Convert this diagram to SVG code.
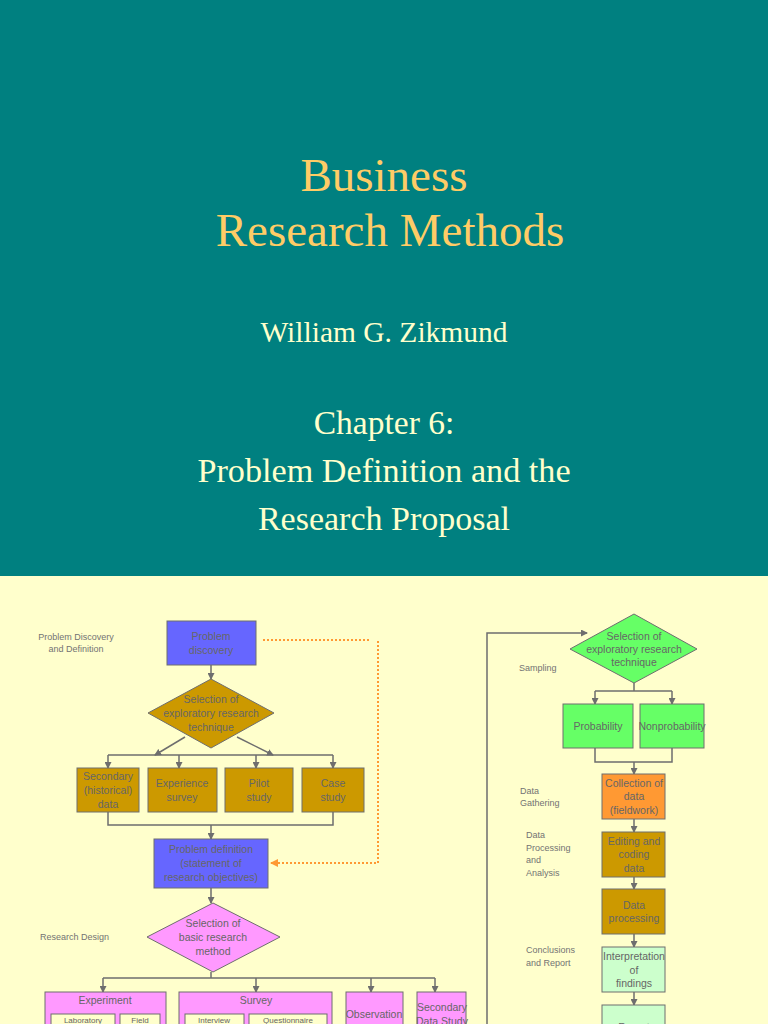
<svg xmlns="http://www.w3.org/2000/svg" width="768" height="1024" viewBox="0 0 768 1024">
<style>
.t{font-family:"Liberation Serif","Times New Roman",serif;text-anchor:middle}
.title{fill:#FFCC66;font-size:47px}
.sub{fill:#FFFFCC}
.lbl{font-family:"Liberation Sans",Arial,sans-serif;font-size:9px;fill:#737373}
.bt{font-family:"Liberation Sans",Arial,sans-serif;font-size:10.5px;fill:#666666;text-anchor:middle}
.st{font-family:"Liberation Sans",Arial,sans-serif;font-size:8px;fill:#666666;text-anchor:middle}
.box{stroke:#6E6E6E;stroke-width:1}
.blue{fill:#6666FF}
.gold{fill:#CC9900}
.pink{fill:#FF99FF}
.green{fill:#66FF66}
.orange{fill:#FF9933}
.mint{fill:#CCFFCC}
.cream{fill:#FFFFCC}
.c{fill:none;stroke:#6E6E6E;stroke-width:1.5}
.dot{fill:none;stroke:#FF9933;stroke-width:2;stroke-dasharray:2 2}
</style>
<defs>
<marker id="ah" markerUnits="userSpaceOnUse" markerWidth="7" markerHeight="7" refX="6" refY="3.5" orient="auto">
<path d="M0,0 L7,3.5 L0,7 z" fill="#6E6E6E"/>
</marker>
<marker id="oah" markerUnits="userSpaceOnUse" markerWidth="8" markerHeight="8" refX="7" refY="4" orient="auto">
<path d="M0,0 L8,4 L0,8 z" fill="#FF9933"/>
</marker>
</defs>
<rect x="0" y="0" width="768" height="576" fill="#008080"/>
<rect x="0" y="576" width="768" height="448" fill="#FFFFCC"/>
<g id="title">
<text class="t title" x="384" y="191">Business</text>
<text class="t title" x="390" y="246">Research Methods</text>
<text class="t sub" x="384" y="342" font-size="29.5">William G. Zikmund</text>
<text class="t sub" x="384" y="434" font-size="33.5">Chapter 6:</text>
<text class="t sub" x="384" y="482" font-size="34.2">Problem Definition and the</text>
<text class="t sub" x="384" y="530" font-size="34">Research Proposal</text>
</g>
<g id="labels">
<text class="lbl" x="76" y="640" text-anchor="middle">Problem Discovery</text>
<text class="lbl" x="76" y="652" text-anchor="middle">and Definition</text>
<text class="lbl" x="40" y="940">Research Design</text>
<text class="lbl" x="519" y="671">Sampling</text>
<text class="lbl" x="520" y="794">Data</text>
<text class="lbl" x="520" y="806">Gathering</text>
<text class="lbl" x="526" y="838">Data</text>
<text class="lbl" x="526" y="851">Processing</text>
<text class="lbl" x="526" y="863">and</text>
<text class="lbl" x="526" y="876">Analysis</text>
<text class="lbl" x="526" y="953">Conclusions</text>
<text class="lbl" x="526" y="966">and Report</text>
</g>
<g id="connectors">
<path class="c" d="M211,665 V679" marker-end="url(#ah)"/>
<path class="c" d="M185,737 L155,755" marker-end="url(#ah)"/>
<path class="c" d="M237,737 L273,755" marker-end="url(#ah)"/>
<path class="c" d="M108,755 H333"/>
<path class="c" d="M108,755 V768" marker-end="url(#ah)"/>
<path class="c" d="M179,755 V768" marker-end="url(#ah)"/>
<path class="c" d="M256,755 V768" marker-end="url(#ah)"/>
<path class="c" d="M333,755 V768" marker-end="url(#ah)"/>
<path class="c" d="M108,812 V825 H333 V812"/>
<path class="c" d="M211,825 V839" marker-end="url(#ah)"/>
<path class="c" d="M211,888 V903" marker-end="url(#ah)"/>
<path class="c" d="M211,972 V978"/>
<path class="c" d="M103,978 H435"/>
<path class="c" d="M103,978 V992" marker-end="url(#ah)"/>
<path class="c" d="M256,978 V992" marker-end="url(#ah)"/>
<path class="c" d="M371,978 V992" marker-end="url(#ah)"/>
<path class="c" d="M435,978 V992" marker-end="url(#ah)"/>
<path class="dot" d="M263,640 H370"/>
<path class="dot" d="M378,641 V863 H271" marker-end="url(#oah)"/>
<path class="c" d="M487,1024 V633 H587" marker-end="url(#ah)"/>
<path class="c" d="M634,683 V691"/>
<path class="c" d="M595,691 H672"/>
<path class="c" d="M595,691 V704" marker-end="url(#ah)"/>
<path class="c" d="M672,691 V704" marker-end="url(#ah)"/>
<path class="c" d="M595,748 V762 H672 V748"/>
<path class="c" d="M634,762 V774" marker-end="url(#ah)"/>
<path class="c" d="M634,819 V832" marker-end="url(#ah)"/>
<path class="c" d="M634,877 V889" marker-end="url(#ah)"/>
<path class="c" d="M634,934 V947" marker-end="url(#ah)"/>
<path class="c" d="M634,992 V1005" marker-end="url(#ah)"/>
</g>
<g id="problem-discovery">
<rect class="box blue" x="167" y="621" width="89" height="44"/>
<text class="bt" x="211" y="640">Problem</text>
<text class="bt" x="211" y="654">discovery</text>
</g>
<g id="exploratory-selection">
<polygon class="box gold" points="211,679 274,713 211,748 148,713"/>
<text class="bt" x="211" y="703">Selection of</text>
<text class="bt" x="211" y="717">exploratory research</text>
<text class="bt" x="211" y="731">technique</text>
</g>
<g id="secondary-data">
<rect class="box gold" x="77" y="768" width="62" height="44"/>
<text class="bt" x="108" y="780">Secondary</text>
<text class="bt" x="108" y="794">(historical)</text>
<text class="bt" x="108" y="808">data</text>
</g>
<g id="experience-survey">
<rect class="box gold" x="148" y="768" width="69" height="44"/>
<text class="bt" x="182" y="787">Experience</text>
<text class="bt" x="182" y="801">survey</text>
</g>
<g id="pilot-study">
<rect class="box gold" x="225" y="768" width="68" height="44"/>
<text class="bt" x="259" y="787">Pilot</text>
<text class="bt" x="259" y="801">study</text>
</g>
<g id="case-study">
<rect class="box gold" x="302" y="768" width="62" height="44"/>
<text class="bt" x="333" y="787">Case</text>
<text class="bt" x="333" y="801">study</text>
</g>
<g id="problem-definition">
<rect class="box blue" x="154" y="839" width="114" height="49"/>
<text class="bt" x="211" y="853">Problem definition</text>
<text class="bt" x="211" y="867">(statement of</text>
<text class="bt" x="211" y="881">research objectives)</text>
</g>
<g id="basic-method">
<polygon class="box pink" points="213,903 280,937 213,972 147,937"/>
<text class="bt" x="213" y="927">Selection of</text>
<text class="bt" x="213" y="941">basic research</text>
<text class="bt" x="213" y="955">method</text>
</g>
<g id="experiment">
<rect class="box pink" x="45" y="992" width="121" height="40"/>
<text class="bt" x="105" y="1004">Experiment</text>
<rect class="box cream" x="51" y="1014" width="64" height="14"/>
<text class="st" x="83" y="1023">Laboratory</text>
<rect class="box cream" x="120" y="1014" width="40" height="14"/>
<text class="st" x="140" y="1023">Field</text>
</g>
<g id="survey">
<rect class="box pink" x="179" y="992" width="153" height="40"/>
<text class="bt" x="256" y="1004">Survey</text>
<rect class="box cream" x="185" y="1014" width="59" height="14"/>
<text class="st" x="214" y="1023">Interview</text>
<rect class="box cream" x="249" y="1014" width="78" height="14"/>
<text class="st" x="288" y="1023">Questionnaire</text>
</g>
<g id="observation">
<rect class="box pink" x="346" y="992" width="57" height="40"/>
<text class="bt" x="374" y="1018">Observation</text>
</g>
<g id="secondary-data-study">
<rect class="box pink" x="417" y="992" width="49" height="40"/>
<text class="bt" x="442" y="1011">Secondary</text>
<text class="bt" x="442" y="1025">Data Study</text>
</g>
<g id="sampling-selection">
<polygon class="box green" points="634,614 697,649 634,683 570,649"/>
<text class="bt" x="634" y="640">Selection of</text>
<text class="bt" x="634" y="653">exploratory research</text>
<text class="bt" x="634" y="666">technique</text>
</g>
<g id="probability">
<rect class="box green" x="563" y="704" width="70" height="44"/>
<text class="bt" x="598" y="730">Probability</text>
</g>
<g id="nonprobability">
<rect class="box green" x="640" y="704" width="64" height="44"/>
<text class="bt" x="672" y="730">Nonprobability</text>
</g>
<g id="collection">
<rect class="box orange" x="602" y="774" width="63" height="45"/>
<text class="bt" x="634" y="787">Collection of</text>
<text class="bt" x="634" y="800">data</text>
<text class="bt" x="634" y="814">(fieldwork)</text>
</g>
<g id="editing">
<rect class="box gold" x="602" y="832" width="63" height="45"/>
<text class="bt" x="634" y="845">Editing and</text>
<text class="bt" x="634" y="858">coding</text>
<text class="bt" x="634" y="872">data</text>
</g>
<g id="data-processing">
<rect class="box gold" x="602" y="889" width="63" height="45"/>
<text class="bt" x="634" y="909">Data</text>
<text class="bt" x="634" y="922">processing</text>
</g>
<g id="interpretation">
<rect class="box mint" x="602" y="947" width="63" height="45"/>
<text class="bt" x="634" y="960">Interpretation</text>
<text class="bt" x="634" y="974">of</text>
<text class="bt" x="634" y="987">findings</text>
</g>
<g id="report">
<rect class="box mint" x="602" y="1005" width="63" height="30"/>
<text class="bt" x="634" y="1031">Report</text>
</g>
</svg>
